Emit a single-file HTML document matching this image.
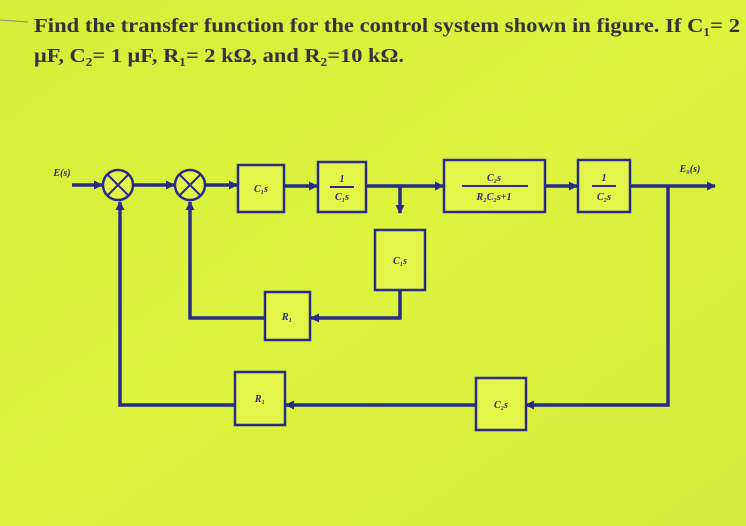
<!DOCTYPE html>
<html><head><style>
html,body{margin:0;padding:0;background:#d9f23c;}
svg{display:block}
</style></head><body>
<svg width="746" height="526" viewBox="0 0 746 526" xmlns="http://www.w3.org/2000/svg">
<defs>
<linearGradient id="bg" x1="0" y1="0" x2="1" y2="1">
<stop offset="0" stop-color="#d4ee3a"/><stop offset="0.5" stop-color="#dcf43e"/><stop offset="1" stop-color="#d2ea3c"/>
</linearGradient>
<marker id="a" markerWidth="9" markerHeight="9" refX="8" refY="4.5" orient="auto" markerUnits="userSpaceOnUse">
<path d="M0,0 L9,4.5 L0,9 z" fill="#2a2a8a"/></marker>
</defs>
<rect width="746" height="526" fill="url(#bg)"/>
<line x1="0" y1="20" x2="28" y2="22" stroke="#888" stroke-width="1"/>
<g font-family="Liberation Serif, serif" font-weight="bold" fill="#33333a">
<text x="34" y="32" font-size="20" textLength="706" lengthAdjust="spacingAndGlyphs">Find the transfer function for the control system shown in figure. If C₁= 2</text>
<text x="34" y="62" font-size="20" textLength="370" lengthAdjust="spacingAndGlyphs">μF, C₂= 1 μF, R₁= 2 kΩ, and R₂=10 kΩ.</text>
</g>
<g stroke="#2a2a8a" stroke-width="3.5" fill="none">
<line x1="72" y1="185" x2="102" y2="185" marker-end="url(#a)"/>
<line x1="133" y1="185" x2="174" y2="185" marker-end="url(#a)"/>
<line x1="205" y1="185" x2="237" y2="185" marker-end="url(#a)"/>
<line x1="284" y1="186" x2="317" y2="186" marker-end="url(#a)"/>
<line x1="366" y1="186" x2="443" y2="186" marker-end="url(#a)"/>
<line x1="545" y1="186" x2="577" y2="186" marker-end="url(#a)"/>
<line x1="630" y1="186" x2="715" y2="186" marker-end="url(#a)"/>
<line x1="400" y1="186" x2="400" y2="213" marker-end="url(#a)"/>
<polyline points="400,290 400,318 311,318" marker-end="url(#a)"/>
<polyline points="265,318 190,318 190,202" marker-end="url(#a)"/>
<polyline points="668,186 668,405 526,405" marker-end="url(#a)"/>
<line x1="476" y1="405" x2="286" y2="405" marker-end="url(#a)"/>
<polyline points="235,405 120,405 120,202" marker-end="url(#a)"/>
</g>
<g fill="#e3f548" stroke="#2a2a8a" stroke-width="2.5">
<circle cx="118" cy="185" r="15"/><circle cx="190" cy="185" r="15"/>
<rect x="238" y="165" width="46" height="47"/>
<rect x="318" y="162" width="48" height="50"/>
<rect x="444" y="160" width="101" height="52"/>
<rect x="578" y="160" width="52" height="52"/>
<rect x="375" y="230" width="50" height="60"/>
<rect x="265" y="292" width="45" height="48"/>
<rect x="235" y="372" width="50" height="53"/>
<rect x="476" y="378" width="50" height="52"/>
</g>
<g stroke="#2a2a8a" stroke-width="2">
<line x1="108" y1="175" x2="128" y2="195"/><line x1="128" y1="175" x2="108" y2="195"/>
<line x1="180" y1="175" x2="200" y2="195"/><line x1="200" y1="175" x2="180" y2="195"/>
<line x1="330" y1="187" x2="354" y2="187"/>
<line x1="462" y1="186" x2="528" y2="186"/>
<line x1="592" y1="186" x2="616" y2="186"/>
</g>
<g font-family="Liberation Serif, serif" font-style="italic" font-weight="bold" font-size="10" fill="#2a2a70" text-anchor="middle">
<text x="62" y="176">E(s)</text>
<text x="690" y="172">E₀(s)</text>
<text x="261" y="192">C₁s</text>
<text x="342" y="182">1</text><text x="342" y="200">C₁s</text>
<text x="494" y="181">C₂s</text><text x="494" y="200">R₂C₂s+1</text>
<text x="604" y="181">1</text><text x="604" y="200">C₂s</text>
<text x="400" y="264">C₁s</text>
<text x="287" y="320">R₁</text>
<text x="260" y="402">R₁</text>
<text x="501" y="408">C₂s</text>
</g>
</svg>
</body></html>
